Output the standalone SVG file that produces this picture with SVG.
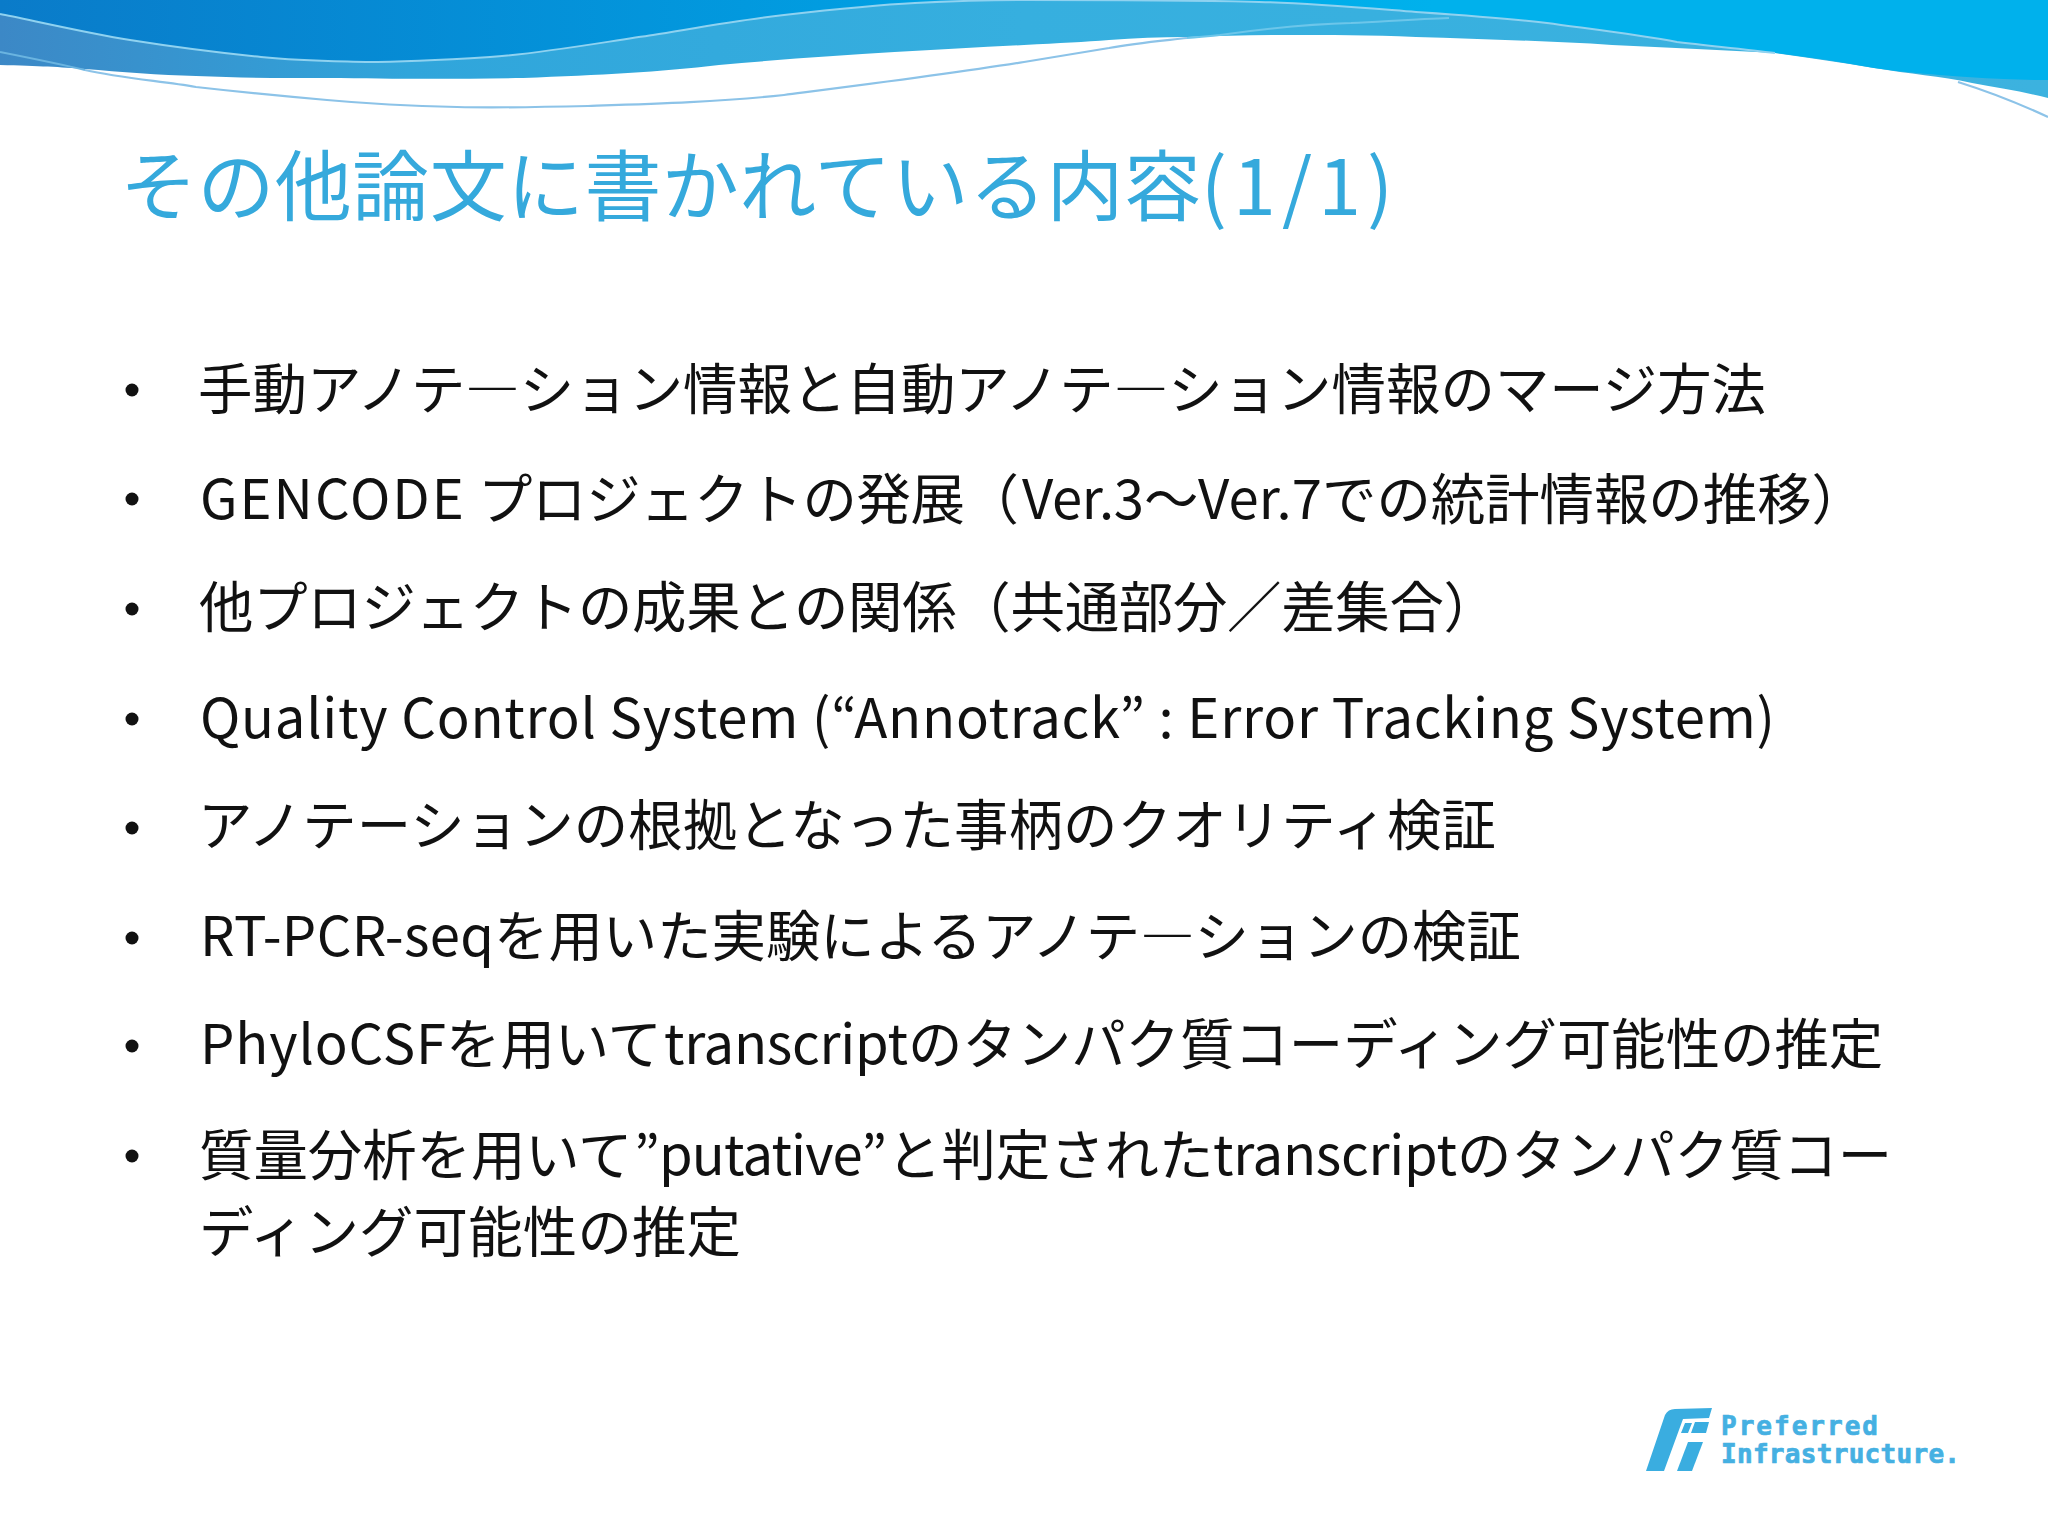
<svg xmlns="http://www.w3.org/2000/svg" width="2048" height="1536" viewBox="0 0 2048 1536">
<defs>
<style>
text{font-family:"Noto Sans CJK JP","Noto Sans",sans-serif;font-weight:400}
.b{font-size:54.4px;fill:#111}
.t{font-size:77px;fill:#35a9dc}
.d{fill:#111}
.m{font-family:"DejaVu Sans Mono",monospace;font-weight:700;font-size:26px;fill:#45b0e2;stroke:#45b0e2;stroke-width:.7}
</style>
<linearGradient id="g1" x1="0" x2="1" y1="0" y2="0"><stop offset="0" stop-color="#0a7bc9"/><stop offset=".45" stop-color="#00a0e3"/><stop offset=".7" stop-color="#00b1ec"/></linearGradient>
<linearGradient id="g2" x1="0" x2="1" y1="0" y2="0"><stop offset="0" stop-color="#3c88c6"/><stop offset=".2" stop-color="#30a5db"/><stop offset=".5" stop-color="#36afdf"/><stop offset="1" stop-color="#3cb2df"/></linearGradient>
</defs>
<rect width="2048" height="1536" fill="#fff"/>
<g id="header">
<path d="M0 65C40 66 60 67 85 69C120 72 160 75 196 76C240 78 280 78 327 78C400 79 460 79 523 78C600 75 660 72 719 65C830 55 930 50 1024 45C1060 43 1085 42 1109 40C1135 38 1160 37 1187 37C1220 36 1250 35 1285 35C1330 35 1370 35 1416 37C1480 39 1550 41 1612 45C1670 48 1725 50 1775 53C1810 58 1840 62 1874 68C1910 74 1940 76 1972 83C2000 88 2025 92 2048 98V0H0Z" fill="url(#g2)"/>
<path id="top" d="M0 14C22 18 86 33 130 40C174 47 222 53 261 57C300 61 328 61 366 62C404 62 442 60 490 57C538 54 604 42 653 35C702 27 740 20 784 15C828 10 875 5 915 3C955 1 985 0 1024 0C1100 0 1200 0 1259 2C1310 3 1365 8 1416 12C1460 15 1505 18 1547 23C1590 29 1640 35 1677 42C1710 46 1745 49 1775 53C1808 57 1840 62 1874 68C1900 72 1920 73 1939 75C1975 78 2010 80 2048 80V0H0Z" fill="url(#g1)"/>
<path d="M0 14C22 18 86 33 130 40C174 47 222 53 261 57C300 61 328 61 366 62C404 62 442 60 490 57C538 54 604 42 653 35C702 27 740 20 784 15C828 10 875 5 915 3C955 1 985 0 1024 0C1100 0 1200 0 1259 2C1310 3 1365 8 1416 12C1460 15 1505 18 1547 23C1590 29 1640 35 1677 42C1710 46 1745 49 1775 53" fill="none" stroke="#8fd2f0" stroke-width="2"/>
<path d="M85 70C120 78 160 81 196 87C240 92 280 96 327 100C370 104 410 106 457 107C500 108 545 107 588 106C650 104 720 102 784 95C870 84 950 74 1024 62C1060 56 1085 52 1109 48C1135 43 1160 41 1187 38" fill="none" stroke="#8cc3e8" stroke-width="2.2"/>
<path d="M0 52C30 58 60 64 85 70" fill="none" stroke="#6ab4e0" stroke-width="2"/>
<path d="M1187 38C1200 37 1210 36 1220 35C1270 28 1310 24 1351 23C1390 21 1420 19 1449 18" fill="none" stroke="#6cc6ea" stroke-width="2"/>
<path d="M1958 82C1990 92 2020 104 2048 117" fill="none" stroke="#8cc3e8" stroke-width="2.2"/>
</g>
<text class="t" y="215"><tspan x="120" textLength="1081">その他論文に書かれている内容</tspan><tspan x="1201" textLength="192">(1/1)</tspan></text>
<g id="bullets">
<circle class="d" cx="132" cy="390" r="6.5"/><circle class="d" cx="132" cy="499" r="6.5"/><circle class="d" cx="132" cy="609" r="6.5"/><circle class="d" cx="132" cy="719" r="6.5"/><circle class="d" cx="132" cy="828" r="6.5"/><circle class="d" cx="132" cy="938" r="6.5"/><circle class="d" cx="132" cy="1046" r="6.5"/><circle class="d" cx="132" cy="1156" r="6.5"/>
</g>
<g id="list">
<text class="b" x="198" y="409" textLength="1568">手動アノテ―ション情報と自動アノテ―ション情報のマージ方法</text>
<text class="b" y="519"><tspan x="200" textLength="278">GENCODE </tspan><tspan x="478" textLength="541">プロジェクトの発展（</tspan><tspan x="1022" textLength="122">Ver.3</tspan><tspan x="1144">～</tspan><tspan x="1198" textLength="124">Ver.7</tspan><tspan x="1322">での統計情報の推移）</tspan></text>
<text class="b" x="199" y="627" textLength="1299">他プロジェクトの成果との関係（共通部分／差集合）</text>
<text class="b" x="200" y="738" textLength="1575">Quality Control System (“Annotrack” : Error Tracking System)</text>
<text class="b" x="198" y="845" textLength="1298">アノテーションの根拠となった事柄のクオリティ検証</text>
<text class="b" y="956"><tspan x="200" textLength="294">RT-PCR-seq</tspan><tspan x="494">を用いた実験によるアノテ―ションの検証</tspan></text>
<text class="b" y="1064"><tspan x="200" textLength="246">PhyloCSF</tspan><tspan x="446">を用いて</tspan><tspan x="664" textLength="244">transcript</tspan><tspan x="908">のタンパク質コーディング可能性の推定</tspan></text>
<text class="b" y="1175"><tspan x="199">質量分析を用いて</tspan><tspan x="634" textLength="253">”putative”</tspan><tspan x="887">と判定された</tspan><tspan x="1213" textLength="244">transcript</tspan><tspan x="1457">のタンパク質コー</tspan></text>
<text class="b" x="199" y="1252" textLength="542">ディング可能性の推定</text>
</g>
<g id="logo" fill="#3aade0">
<path d="M1646 1471L1665 1415Q1668 1409 1675 1409L1712 1408L1709 1418L1683 1419L1664 1471Z"/>
<path d="M1685 1423H1692L1688 1433H1681Z"/>
<path d="M1695 1422H1709L1706 1433H1691Z"/>
<path d="M1688 1442H1703L1692 1471H1677Z"/>
<text class="m" x="1721" y="1435" textLength="157">Preferred</text>
<text class="m" x="1721" y="1463" textLength="239">Infrastructure.</text>
</g>
</svg>
